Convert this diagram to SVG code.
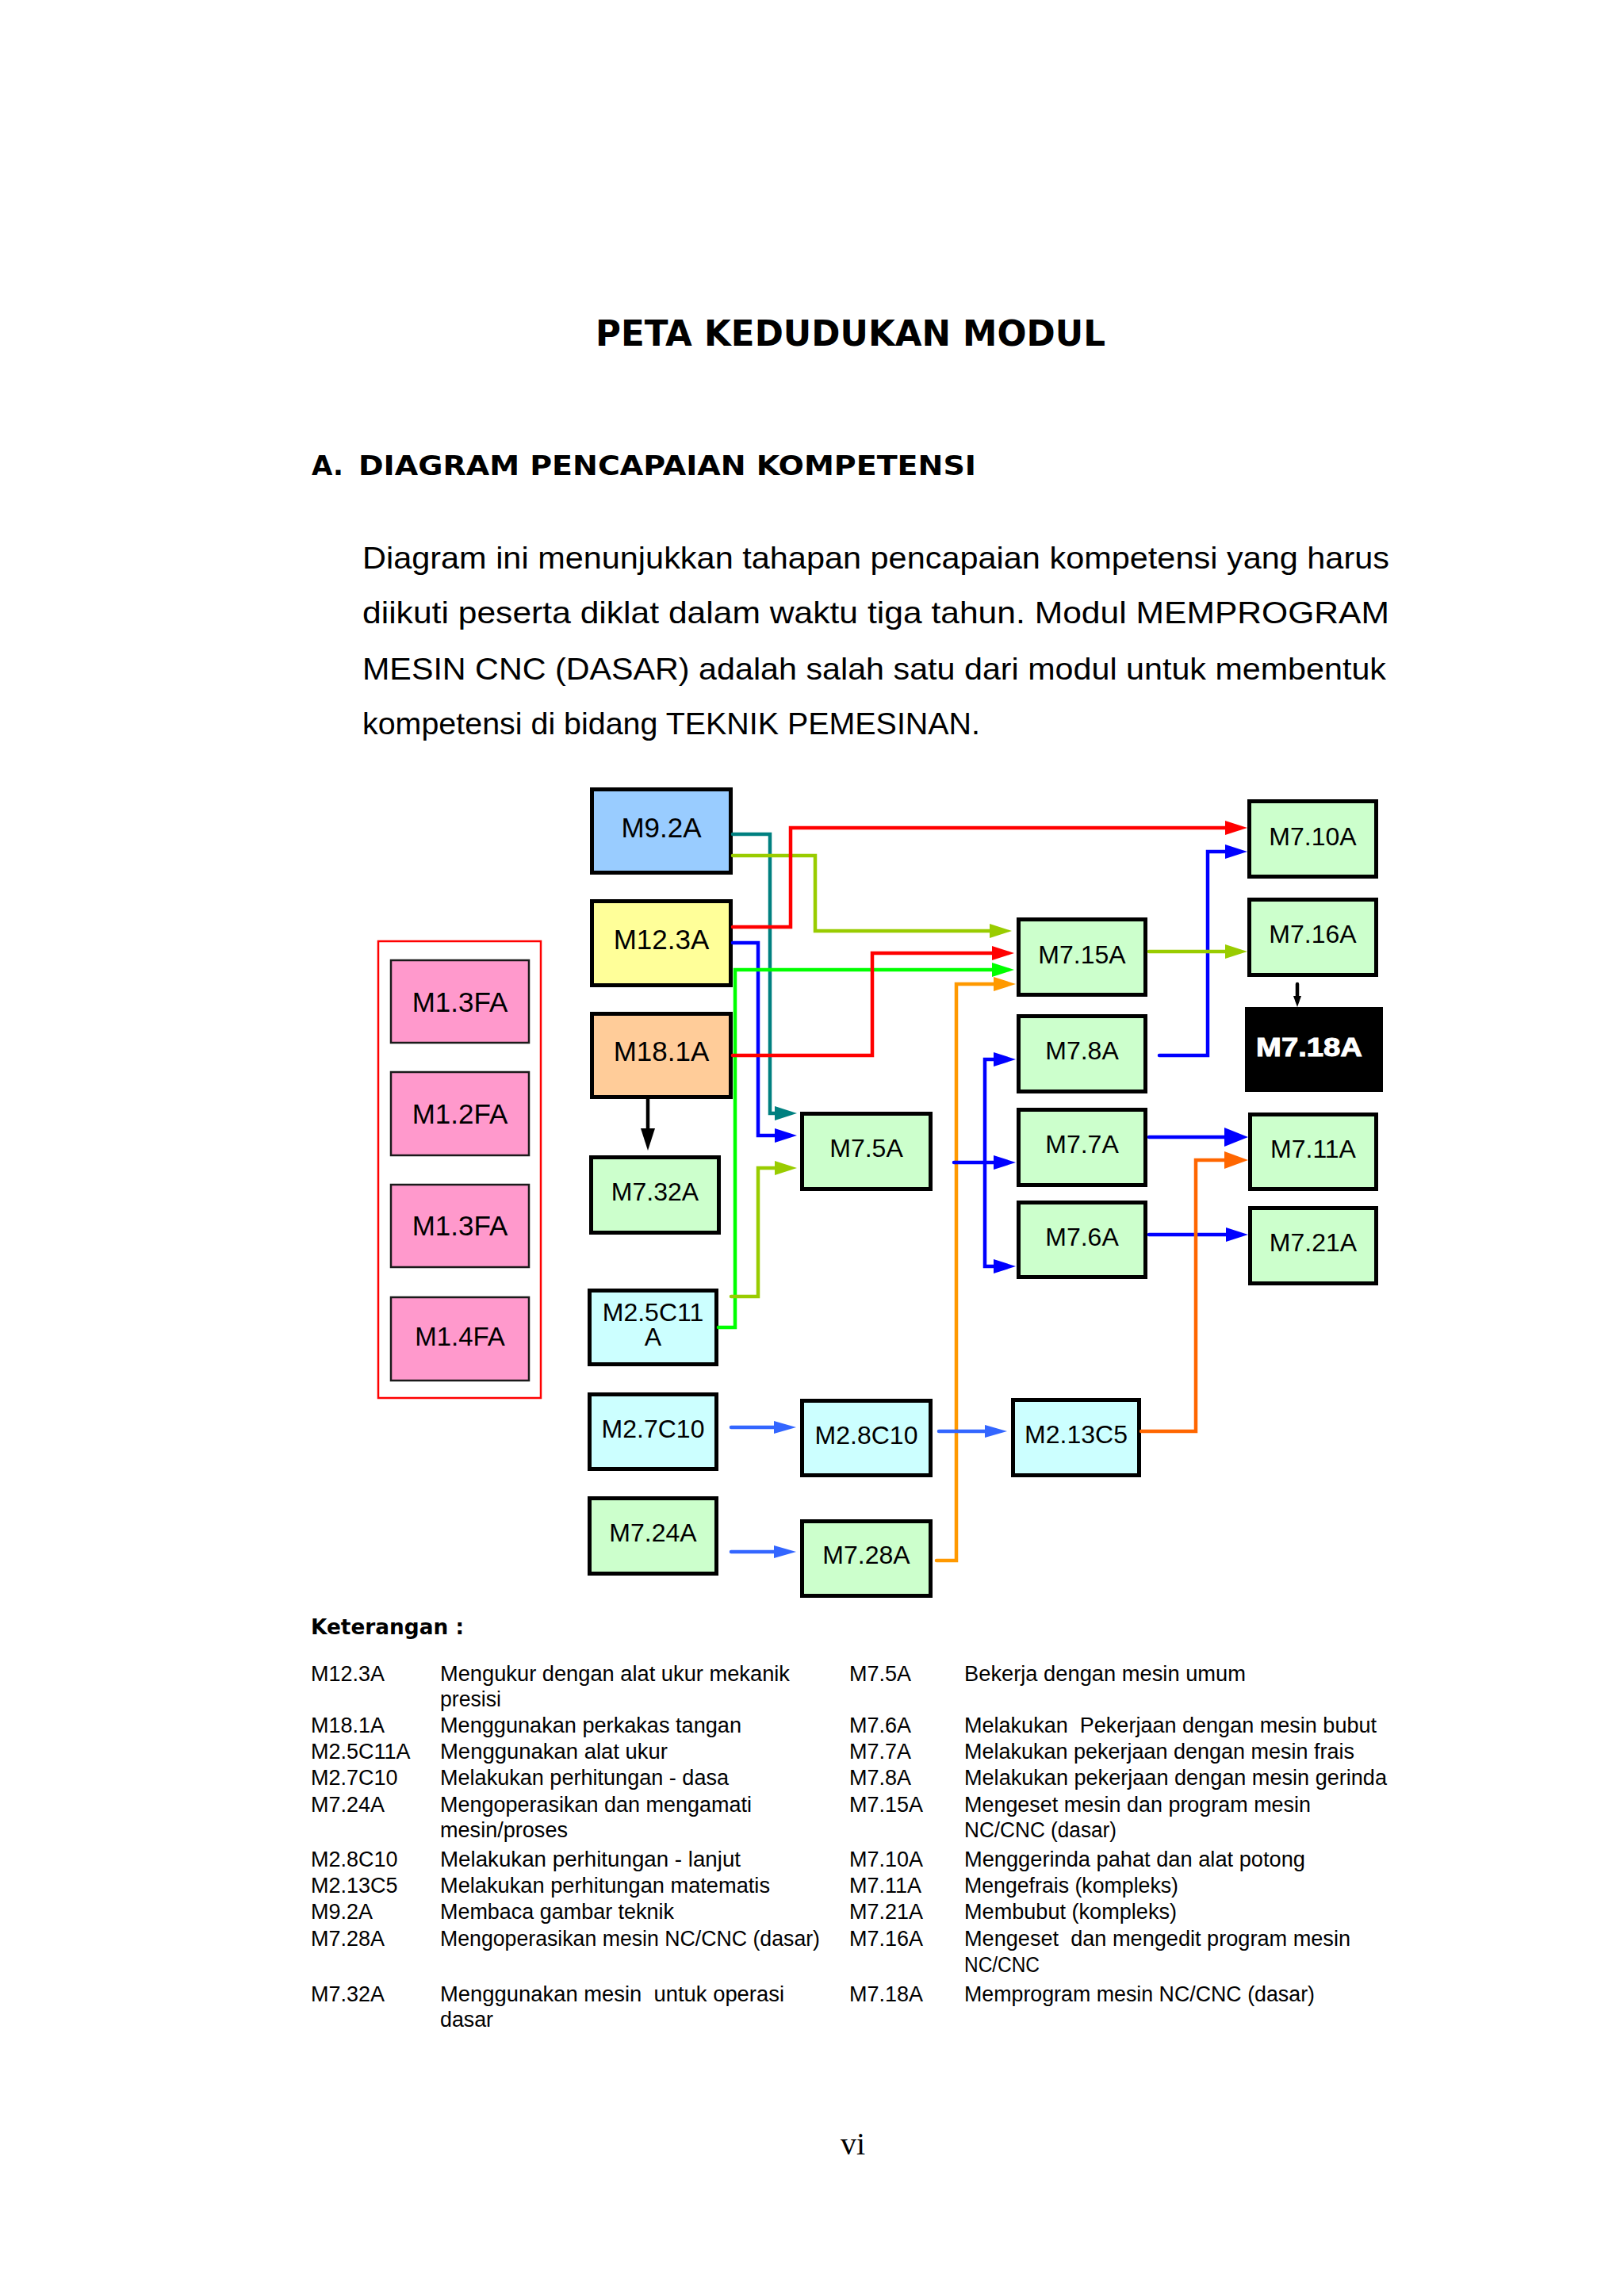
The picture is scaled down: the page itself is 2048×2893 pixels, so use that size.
<svg xmlns="http://www.w3.org/2000/svg" width="2048" height="2893" viewBox="0 0 2048 2893">
<style>
.nd{stroke:#000;stroke-width:5}
.pk{fill:#FF99CC;stroke:#1a1a1a;stroke-width:2.5}
.lb{font-family:"Liberation Sans",Arial,sans-serif;font-size:32px;fill:#000;text-anchor:middle}
.lb35{font-size:35px}
.ln{fill:none;stroke-width:4.5;stroke-linecap:round;stroke-linejoin:miter}
.hd{font-family:"DejaVu Sans",Verdana,sans-serif;font-weight:bold;fill:#000}
.bd{font-family:"Liberation Sans",Arial,sans-serif;fill:#000}
.lg{font-family:"Liberation Sans",Arial,sans-serif;font-size:27px;fill:#000;white-space:pre}
</style>
<defs>
<marker id="m-teal" viewBox="0 0 28 18" refX="14" refY="9" markerWidth="28" markerHeight="18" markerUnits="userSpaceOnUse" orient="auto"><path d="M0,0 L28,9 L0,18 z" fill="#008080"/></marker>
<marker id="m-yg" viewBox="0 0 28 18" refX="14" refY="9" markerWidth="28" markerHeight="18" markerUnits="userSpaceOnUse" orient="auto"><path d="M0,0 L28,9 L0,18 z" fill="#99CC00"/></marker>
<marker id="m-red" viewBox="0 0 28 18" refX="14" refY="9" markerWidth="28" markerHeight="18" markerUnits="userSpaceOnUse" orient="auto"><path d="M0,0 L28,9 L0,18 z" fill="#FF0000"/></marker>
<marker id="m-blue" viewBox="0 0 28 18" refX="14" refY="9" markerWidth="28" markerHeight="18" markerUnits="userSpaceOnUse" orient="auto"><path d="M0,0 L28,9 L0,18 z" fill="#0000FF"/></marker>
<marker id="m-blueL" viewBox="0 0 30 24" refX="15" refY="12" markerWidth="30" markerHeight="24" markerUnits="userSpaceOnUse" orient="auto"><path d="M0,0 L30,12 L0,24 z" fill="#0000FF"/></marker>
<marker id="m-green" viewBox="0 0 28 18" refX="14" refY="9" markerWidth="28" markerHeight="18" markerUnits="userSpaceOnUse" orient="auto"><path d="M0,0 L28,9 L0,18 z" fill="#00FF00"/></marker>
<marker id="m-or" viewBox="0 0 28 18" refX="14" refY="9" markerWidth="28" markerHeight="18" markerUnits="userSpaceOnUse" orient="auto"><path d="M0,0 L28,9 L0,18 z" fill="#FF9900"/></marker>
<marker id="m-dor" viewBox="0 0 30 22" refX="15" refY="11" markerWidth="30" markerHeight="22" markerUnits="userSpaceOnUse" orient="auto"><path d="M0,0 L30,11 L0,22 z" fill="#FF6600"/></marker>
<marker id="m-lb" viewBox="0 0 28 16" refX="14" refY="8" markerWidth="28" markerHeight="16" markerUnits="userSpaceOnUse" orient="auto"><path d="M0,0 L28,8 L0,16 z" fill="#3366FF"/></marker>
<marker id="m-blk" viewBox="0 0 28 18" refX="14" refY="9" markerWidth="28" markerHeight="18" markerUnits="userSpaceOnUse" orient="auto"><path d="M0,0 L28,9 L0,18 z" fill="#000"/></marker>
<marker id="m-blks" viewBox="0 0 14 10" refX="7" refY="5" markerWidth="14" markerHeight="10" markerUnits="userSpaceOnUse" orient="auto"><path d="M0,0 L14,5 L0,10 z" fill="#000"/></marker>
</defs>
<rect x="0" y="0" width="2048" height="2893" fill="#FFFFFF"/>

<g id="page-text">
<text class="hd" x="751" y="436" font-size="45" textLength="643" lengthAdjust="spacingAndGlyphs">PETA KEDUDUKAN MODUL</text>
<text class="hd" x="393" y="599" font-size="34">A.</text>
<text class="hd" x="452" y="599" font-size="34" textLength="779" lengthAdjust="spacingAndGlyphs">DIAGRAM PENCAPAIAN KOMPETENSI</text>
<text class="bd" x="457" y="717" font-size="39" textLength="1295" lengthAdjust="spacingAndGlyphs">Diagram ini menunjukkan tahapan pencapaian kompetensi yang harus</text>
<text class="bd" x="457" y="786" font-size="39" textLength="1295" lengthAdjust="spacingAndGlyphs">diikuti peserta diklat dalam waktu tiga tahun. Modul MEMPROGRAM</text>
<text class="bd" x="457" y="857" font-size="39" textLength="1291" lengthAdjust="spacingAndGlyphs">MESIN CNC (DASAR) adalah salah satu dari modul untuk membentuk</text>
<text class="bd" x="457" y="926" font-size="39" textLength="779" lengthAdjust="spacingAndGlyphs">kompetensi di bidang TEKNIK PEMESINAN.</text>
</g>

<g id="group-M1">
<rect x="477" y="1187" width="205" height="576" fill="none" stroke="#FF0000" stroke-width="2.5"/>
</g>
<g id="node-M1-3FA-a"><rect class="pk" x="493" y="1211" width="174" height="104"/><text class="lb lb35" x="580" y="1276">M1.3FA</text></g>
<g id="node-M1-2FA"><rect class="pk" x="493" y="1352" width="174" height="105"/><text class="lb lb35" x="580" y="1417">M1.2FA</text></g>
<g id="node-M1-3FA-b"><rect class="pk" x="493" y="1494" width="174" height="104"/><text class="lb lb35" x="580" y="1558">M1.3FA</text></g>
<g id="node-M1-4FA"><rect class="pk" x="493" y="1636" width="174" height="105"/><text class="lb" x="580" y="1697" style="font-size:33px">M1.4FA</text></g>

<g id="node-M9-2A"><rect class="nd" x="746.5" y="995.5" width="175" height="105" fill="#99CCFF"/><text class="lb lb35" x="834" y="1056">M9.2A</text></g>
<g id="node-M12-3A"><rect class="nd" x="746.5" y="1136.5" width="175" height="106" fill="#FFFF99"/><text class="lb lb35" x="834" y="1197">M12.3A</text></g>
<g id="node-M18-1A"><rect class="nd" x="746.5" y="1278.5" width="175" height="105" fill="#FFCC99"/><text class="lb lb35" x="834" y="1338">M18.1A</text></g>
<g id="node-M7-32A"><rect class="nd" x="745.5" y="1459.5" width="161" height="95" fill="#CCFFCC"/><text class="lb" x="826" y="1514">M7.32A</text></g>
<g id="node-M2-5C11A"><rect class="nd" x="743.5" y="1627.5" width="160" height="93" fill="#CCFFFF"/><text class="lb" x="823.5" y="1666">M2.5C11</text><text class="lb" x="823.5" y="1697">A</text></g>
<g id="node-M2-7C10"><rect class="nd" x="743.5" y="1758.5" width="160" height="94" fill="#CCFFFF"/><text class="lb" x="823.5" y="1813">M2.7C10</text></g>
<g id="node-M7-24A"><rect class="nd" x="743.5" y="1889.5" width="160" height="95" fill="#CCFFCC"/><text class="lb" x="823.5" y="1944">M7.24A</text></g>
<g id="node-M7-5A"><rect class="nd" x="1011.5" y="1404.5" width="162" height="95" fill="#CCFFCC"/><text class="lb" x="1092.5" y="1459">M7.5A</text></g>
<g id="node-M2-8C10"><rect class="nd" x="1011.5" y="1766.5" width="162" height="94" fill="#CCFFFF"/><text class="lb" x="1092.5" y="1821">M2.8C10</text></g>
<g id="node-M7-28A"><rect class="nd" x="1011.5" y="1918.5" width="162" height="94" fill="#CCFFCC"/><text class="lb" x="1092.5" y="1972">M7.28A</text></g>
<g id="node-M7-15A"><rect class="nd" x="1284.5" y="1159.5" width="160" height="95" fill="#CCFFCC"/><text class="lb" x="1364.5" y="1215">M7.15A</text></g>
<g id="node-M7-8A"><rect class="nd" x="1284.5" y="1281.5" width="160" height="95" fill="#CCFFCC"/><text class="lb" x="1364.5" y="1336">M7.8A</text></g>
<g id="node-M7-7A"><rect class="nd" x="1284.5" y="1399.5" width="160" height="95" fill="#CCFFCC"/><text class="lb" x="1364.5" y="1454">M7.7A</text></g>
<g id="node-M7-6A"><rect class="nd" x="1284.5" y="1516.5" width="160" height="94" fill="#CCFFCC"/><text class="lb" x="1364.5" y="1571">M7.6A</text></g>
<g id="node-M2-13C5"><rect class="nd" x="1277.5" y="1765.5" width="159" height="95" fill="#CCFFFF"/><text class="lb" x="1357" y="1820">M2.13C5</text></g>
<g id="node-M7-10A"><rect class="nd" x="1575.5" y="1010.5" width="160" height="95" fill="#CCFFCC"/><text class="lb" x="1655.5" y="1066">M7.10A</text></g>
<g id="node-M7-16A"><rect class="nd" x="1575.5" y="1134.5" width="160" height="95" fill="#CCFFCC"/><text class="lb" x="1655.5" y="1189">M7.16A</text></g>
<g id="node-M7-18A"><rect x="1570" y="1270" width="174" height="107" fill="#000"/><text class="lb" x="1651" y="1332" style="font-size:33px;font-weight:bold;fill:#FFFFFF;stroke:#FFFFFF;stroke-width:1" textLength="134" lengthAdjust="spacingAndGlyphs">M7.18A</text></g>
<g id="node-M7-11A"><rect class="nd" x="1576.5" y="1405.5" width="159" height="94" fill="#CCFFCC"/><text class="lb" x="1656" y="1460">M7.11A</text></g>
<g id="node-M7-21A"><rect class="nd" x="1576.5" y="1523.5" width="159" height="95" fill="#CCFFCC"/><text class="lb" x="1656" y="1578">M7.21A</text></g>

<g id="connectors">
<path class="ln" stroke="#008080" d="M924,1052 H971 V1404 H991" marker-end="url(#m-teal)"/>
<path class="ln" stroke="#99CC00" d="M924,1079 H1028 V1174 H1262" marker-end="url(#m-yg)"/>
<path class="ln" stroke="#FF0000" d="M924,1169 H997 V1044 H1559" marker-end="url(#m-red)"/>
<path class="ln" stroke="#0000FF" d="M924,1189 H956 V1432 H991" marker-end="url(#m-blue)"/>
<path class="ln" stroke="#00FF00" d="M906,1674 H927 V1223 H1265" marker-end="url(#m-green)"/>
<path class="ln" stroke="#FF0000" d="M924,1331 H1100 V1202 H1265" marker-end="url(#m-red)"/>
<path class="ln" stroke="#000000" d="M817,1386 V1437" marker-end="url(#m-blk)"/>
<path class="ln" stroke="#99CC00" d="M922,1635 H956 V1473 H991" marker-end="url(#m-yg)"/>
<path class="ln" stroke="#FF9900" d="M1181,1968 H1206 V1241 H1267" marker-end="url(#m-or)"/>
<path class="ln" stroke="#0000FF" d="M1203,1466 H1267" marker-end="url(#m-blue)"/>
<path class="ln" stroke="#0000FF" d="M1242,1466 V1336 H1267" marker-end="url(#m-blue)"/>
<path class="ln" stroke="#0000FF" d="M1242,1466 V1597 H1267" marker-end="url(#m-blue)"/>
<path class="ln" stroke="#0000FF" d="M1462,1331 H1523 V1074 H1559" marker-end="url(#m-blue)"/>
<path class="ln" stroke="#99CC00" d="M1449,1200 H1559" marker-end="url(#m-yg)"/>
<path class="ln" stroke="#000000" stroke-width="2" d="M1636,1241 V1263" marker-end="url(#m-blks)"/>
<path class="ln" stroke="#0000FF" d="M1449,1434 H1559" marker-end="url(#m-blueL)"/>
<path class="ln" stroke="#0000FF" d="M1449,1557 H1560" marker-end="url(#m-blue)"/>
<path class="ln" stroke="#FF6600" stroke-width="6" d="M1439,1805 H1508 V1463 H1559" marker-end="url(#m-dor)"/>
<path class="ln" stroke="#3366FF" d="M922,1800 H990" marker-end="url(#m-lb)"/>
<path class="ln" stroke="#3366FF" d="M922,1957 H990" marker-end="url(#m-lb)"/>
<path class="ln" stroke="#3366FF" d="M1184,1805 H1256" marker-end="url(#m-lb)"/>
</g>

<g id="legend">
<text class="hd" x="392" y="2061" font-size="27" textLength="193" lengthAdjust="spacingAndGlyphs">Keterangan :</text>
<text class="lg" x="392" y="2120">M12.3A</text>
<text class="lg" x="555" y="2120" textLength="441" lengthAdjust="spacingAndGlyphs">Mengukur dengan alat ukur mekanik</text>
<text class="lg" x="555" y="2152" textLength="77" lengthAdjust="spacingAndGlyphs">presisi</text>
<text class="lg" x="392" y="2185">M18.1A</text>
<text class="lg" x="555" y="2185" textLength="380" lengthAdjust="spacingAndGlyphs">Menggunakan perkakas tangan</text>
<text class="lg" x="392" y="2218">M2.5C11A</text>
<text class="lg" x="555" y="2218" textLength="287" lengthAdjust="spacingAndGlyphs">Menggunakan alat ukur</text>
<text class="lg" x="392" y="2251">M2.7C10</text>
<text class="lg" x="555" y="2251" textLength="364" lengthAdjust="spacingAndGlyphs">Melakukan perhitungan - dasa</text>
<text class="lg" x="392" y="2285">M7.24A</text>
<text class="lg" x="555" y="2285" textLength="393" lengthAdjust="spacingAndGlyphs">Mengoperasikan dan mengamati</text>
<text class="lg" x="555" y="2317" textLength="161" lengthAdjust="spacingAndGlyphs">mesin/proses</text>
<text class="lg" x="392" y="2354">M2.8C10</text>
<text class="lg" x="555" y="2354" textLength="379" lengthAdjust="spacingAndGlyphs">Melakukan perhitungan - lanjut</text>
<text class="lg" x="392" y="2387">M2.13C5</text>
<text class="lg" x="555" y="2387" textLength="416" lengthAdjust="spacingAndGlyphs">Melakukan perhitungan matematis</text>
<text class="lg" x="392" y="2420">M9.2A</text>
<text class="lg" x="555" y="2420" textLength="295" lengthAdjust="spacingAndGlyphs">Membaca gambar teknik</text>
<text class="lg" x="392" y="2454">M7.28A</text>
<text class="lg" x="555" y="2454" textLength="479" lengthAdjust="spacingAndGlyphs">Mengoperasikan mesin NC/CNC (dasar)</text>
<text class="lg" x="392" y="2524">M7.32A</text>
<text class="lg" x="555" y="2524" textLength="434" lengthAdjust="spacingAndGlyphs">Menggunakan mesin  untuk operasi</text>
<text class="lg" x="555" y="2556" textLength="67" lengthAdjust="spacingAndGlyphs">dasar</text>

<text class="lg" x="1071" y="2120">M7.5A</text>
<text class="lg" x="1216" y="2120" textLength="355" lengthAdjust="spacingAndGlyphs">Bekerja dengan mesin umum</text>
<text class="lg" x="1071" y="2185">M7.6A</text>
<text class="lg" x="1216" y="2185" textLength="520" lengthAdjust="spacingAndGlyphs">Melakukan  Pekerjaan dengan mesin bubut</text>
<text class="lg" x="1071" y="2218">M7.7A</text>
<text class="lg" x="1216" y="2218" textLength="492" lengthAdjust="spacingAndGlyphs">Melakukan pekerjaan dengan mesin frais</text>
<text class="lg" x="1071" y="2251">M7.8A</text>
<text class="lg" x="1216" y="2251" textLength="533" lengthAdjust="spacingAndGlyphs">Melakukan pekerjaan dengan mesin gerinda</text>
<text class="lg" x="1071" y="2285">M7.15A</text>
<text class="lg" x="1216" y="2285" textLength="437" lengthAdjust="spacingAndGlyphs">Mengeset mesin dan program mesin</text>
<text class="lg" x="1216" y="2317" textLength="192" lengthAdjust="spacingAndGlyphs">NC/CNC (dasar)</text>
<text class="lg" x="1071" y="2354">M7.10A</text>
<text class="lg" x="1216" y="2354" textLength="430" lengthAdjust="spacingAndGlyphs">Menggerinda pahat dan alat potong</text>
<text class="lg" x="1071" y="2387">M7.11A</text>
<text class="lg" x="1216" y="2387" textLength="270" lengthAdjust="spacingAndGlyphs">Mengefrais (kompleks)</text>
<text class="lg" x="1071" y="2420">M7.21A</text>
<text class="lg" x="1216" y="2420" textLength="268" lengthAdjust="spacingAndGlyphs">Membubut (kompleks)</text>
<text class="lg" x="1071" y="2454">M7.16A</text>
<text class="lg" x="1216" y="2454" textLength="487" lengthAdjust="spacingAndGlyphs">Mengeset  dan mengedit program mesin</text>
<text class="lg" x="1216" y="2487" textLength="95" lengthAdjust="spacingAndGlyphs">NC/CNC</text>
<text class="lg" x="1071" y="2524">M7.18A</text>
<text class="lg" x="1216" y="2524" textLength="442" lengthAdjust="spacingAndGlyphs">Memprogram mesin NC/CNC (dasar)</text>
</g>

<text x="1060" y="2717" font-family="'Liberation Serif','Times New Roman',serif" font-size="40" fill="#000">vi</text>
</svg>
